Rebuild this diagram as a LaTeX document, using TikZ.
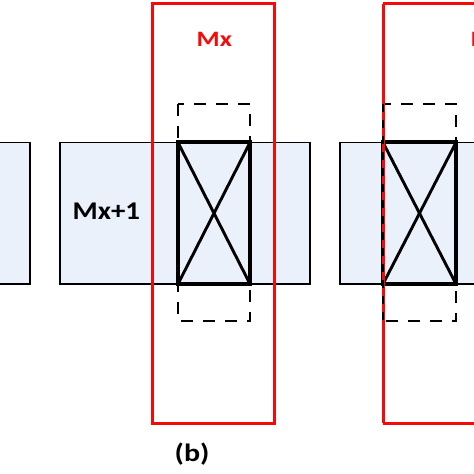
\documentclass[tikz,border=0pt]{standalone}
\usepackage{fontspec}
\setmainfont{Carlito}
\definecolor{boxfill}{RGB}{234,241,251}
\definecolor{redline}{RGB}{245,10,10}
\tikzset{
  memblock/.style={fill=boxfill,draw=black,line width=1.8bp},
  redframe/.style={draw=redline,line width=3bp},
  dashbox/.style={draw=black,line width=2.3bp,dash pattern=on 12bp off 10bp},
  xbox/.style={draw=black,line width=4bp},
  xdiag/.style={draw=black,line width=2.9bp},
  redlab/.style={text=redline,font=\bfseries\fontsize{22bp}{26bp}\selectfont,inner sep=0pt,anchor=base west},
  blacklab/.style={text=black,font=\bfseries\fontsize{25.5bp}{30bp}\selectfont,inner sep=0pt,anchor=base west},
}
\begin{document}
\begin{tikzpicture}[x=1bp,y=-1bp]
\useasboundingbox (0,0) rectangle (474,474);
\clip (0,0) rectangle (474,474);
\fill[white] (0,0) rectangle (474,474);
% memory blocks
\draw[memblock] (-10,142.5) rectangle (30,284);
\draw[memblock] (60,142.5) rectangle (310,284);
\draw[memblock] (340,142.5) rectangle (490,284);
% dashed boxes
\draw[dashbox] (178,104) rectangle (250,321);
\draw[dashbox] (383,104) rectangle (456,321);
% X boxes
\draw[xdiag] (178,142.5) -- (250,284);
\draw[xdiag] (250,142.5) -- (178,284);
\draw[xbox] (178,142.5) rectangle (250,284);
\draw[xdiag] (383,142.5) -- (456,284);
\draw[xdiag] (456,142.5) -- (383,284);
\draw[xbox] (383,142.5) rectangle (456,284);
% red frames
\draw[redframe] (152,4) rectangle (274,423);
\draw[redframe] (383,4) -- (383,423) (383,4) -- (490,4) (383,423) -- (490,423);
\draw[draw=black,line width=2bp,dash pattern=on 8bp off 8bp] (383,104) -- (383,321);
% labels
\node[redlab] (mx1) at (196.5,46.7) {\scalebox{1.2}[1]{Mx}};
\node[redlab] (mx2) at (470.5,46.7) {\scalebox{1.2}[1]{Mx}};
\node[blacklab] (mxp) at (72.5,219.5) {\scalebox{1.13}[1]{Mx+1}};
\node[blacklab,font=\bfseries\fontsize{25bp}{28bp}\selectfont] (lab) at (174.5,461) {\scalebox{1.2}[1]{(b)}};
\end{tikzpicture}
\end{document}
